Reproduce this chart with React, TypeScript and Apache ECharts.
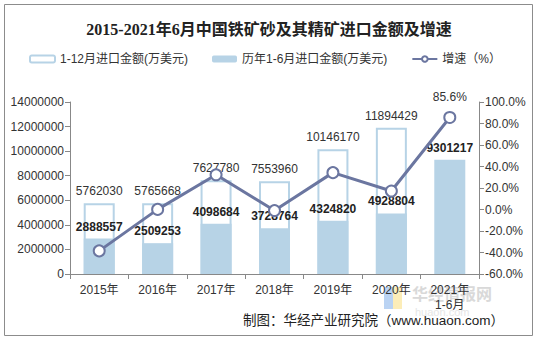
import React, { useEffect, useRef } from "react";
import * as echarts from "echarts";

const categories = ["2015年", "2016年", "2017年", "2018年", "2019年", "2020年", "2021年\n1-6月"];
const fullYear: (number | null)[] = [5762030, 5765668, 7627780, 7553960, 10146170, 11894429, null];
const firstHalf = [2888557, 2509253, 4098684, 3728764, 4324820, 4928804, 9301217];
const growth = [-38.5, 0.1, 32.3, -1.0, 34.3, 17.2, 85.6];
const leftTicks = { min: 0, max: 14000000, interval: 2000000 };
const rightTicks = { min: -60, max: 100, interval: 20 };

const BLUE = "#b7d3e6";
const LINE = "#6b76a0";
const TXT = "#333333";
const FONT = "Liberation Sans, Arial, Noto Sans CJK SC, sans-serif";

export default function App() {
  const ref = useRef<HTMLDivElement>(null);
  useEffect(() => {
    if (!ref.current) return;
    const chart = echarts.init(ref.current, undefined, { renderer: "svg" });
    chart.setOption({
      animation: false,
      backgroundColor: "#ffffff",
      textStyle: { fontFamily: FONT },
      title: {
        text: "2015-2021年6月中国铁矿砂及其精矿进口金额及增速",
        left: "center",
        top: 16,
        textStyle: {
          fontFamily: "Liberation Serif, Noto Sans CJK SC, serif",
          fontSize: 16,
          fontWeight: "bold",
          color: "#222",
        },
      },
      legend: {
        top: 48,
        left: 24,
        itemWidth: 25,
        itemHeight: 7,
        itemGap: 24,
        textStyle: { fontSize: 12, color: TXT, fontFamily: FONT },
        data: [
          { name: "1-12月进口金额(万美元)" },
          { name: "历年1-6月进口金额(万美元)" },
          { name: "增速（%）" },
        ],
      },
      grid: { left: 70, right: 59, top: 102, bottom: 68 },
      xAxis: {
        type: "category",
        data: categories,
        axisLine: { lineStyle: { color: "#888" } },
        axisTick: { show: true, alignWithLabel: false, lineStyle: { color: "#888" } },
        axisLabel: { color: TXT, fontSize: 12, lineHeight: 15, margin: 8 },
      },
      yAxis: [
        {
          type: "value",
          ...leftTicks,
          splitLine: { show: false },
          axisLine: { show: true, lineStyle: { color: "#888" } },
          axisTick: { show: true, lineStyle: { color: "#888" } },
          axisLabel: { color: TXT, fontSize: 12, margin: 6, formatter: (v: number) => String(v) },
        },
        {
          type: "value",
          ...rightTicks,
          splitLine: { show: false },
          axisLine: { show: true, lineStyle: { color: "#888" } },
          axisTick: { show: true, lineStyle: { color: "#888" } },
          axisLabel: {
            color: TXT,
            fontSize: 12,
            margin: 6,
            formatter: (v: number) => `${v.toFixed(1)}%`,
          },
        },
      ],
      series: [
        {
          name: "1-12月进口金额(万美元)",
          type: "bar",
          data: fullYear.map((v) => (v == null ? "-" : v)),
          barWidth: 31,
          itemStyle: { color: "#ffffff", borderColor: BLUE, borderWidth: 2 },
          label: { show: true, position: "top", color: TXT, fontSize: 12, distance: 6 },
          z: 2,
        },
        {
          name: "历年1-6月进口金额(万美元)",
          type: "bar",
          data: firstHalf,
          barWidth: 31,
          barGap: "-100%",
          itemStyle: { color: BLUE },
          label: {
            show: true,
            position: "top",
            color: "#222",
            fontSize: 12,
            fontWeight: "bold",
            distance: 6,
          },
          z: 3,
        },
        {
          name: "增速（%）",
          type: "line",
          yAxisIndex: 1,
          data: growth.map((v, i) =>
            i === growth.length - 1
              ? {
                  value: v,
                  label: {
                    show: true,
                    position: "top",
                    formatter: `${v.toFixed(1)}%`,
                    color: TXT,
                    fontSize: 12,
                    distance: 8,
                  },
                }
              : v
          ),
          symbol: "circle",
          symbolSize: 11,
          lineStyle: { color: LINE, width: 3 },
          itemStyle: { color: "#ffffff", borderColor: LINE, borderWidth: 2 },
          z: 4,
        },
      ],
      graphic: [
        {
          type: "rect",
          shape: { x: 4.5, y: 4.5, width: 528, height: 331 },
          style: { fill: "none", stroke: "#8c8c8c", lineWidth: 1 },
          silent: true,
        },
        {
          type: "rect",
          shape: { x: 384, y: 287, width: 9, height: 22 },
          style: { fill: "#a9c8f0", opacity: 0.8 },
          silent: true,
        },
        {
          type: "rect",
          shape: { x: 393, y: 287, width: 9, height: 22 },
          style: { fill: "#fbe9a6", opacity: 0.8 },
          silent: true,
        },
        {
          type: "text",
          x: 412,
          y: 285,
          style: {
            text: "华经情报网",
            fill: "#d9d9d9",
            font: "bold 16px Noto Sans CJK SC, sans-serif",
          },
          silent: true,
          z: -1,
        },
        {
          type: "text",
          x: 415,
          y: 306,
          style: {
            text: "huaon.com",
            fill: "#e6e6e6",
            font: "11px Liberation Sans, sans-serif",
          },
          silent: true,
          z: -1,
        },
        {
          type: "text",
          right: 34,
          y: 314,
          style: {
            text: "制图：华经产业研究院（www.huaon.com）",
            fill: "#222",
            font: "13.5px Liberation Sans, Noto Sans CJK SC, sans-serif",
          },
          silent: true,
        },
      ],
    });
    return () => chart.dispose();
  }, []);
  return (
    <div
      ref={ref}
      style={{ position: "fixed", left: 0, top: 0, width: 538, height: 342 }}
    />
  );
}
